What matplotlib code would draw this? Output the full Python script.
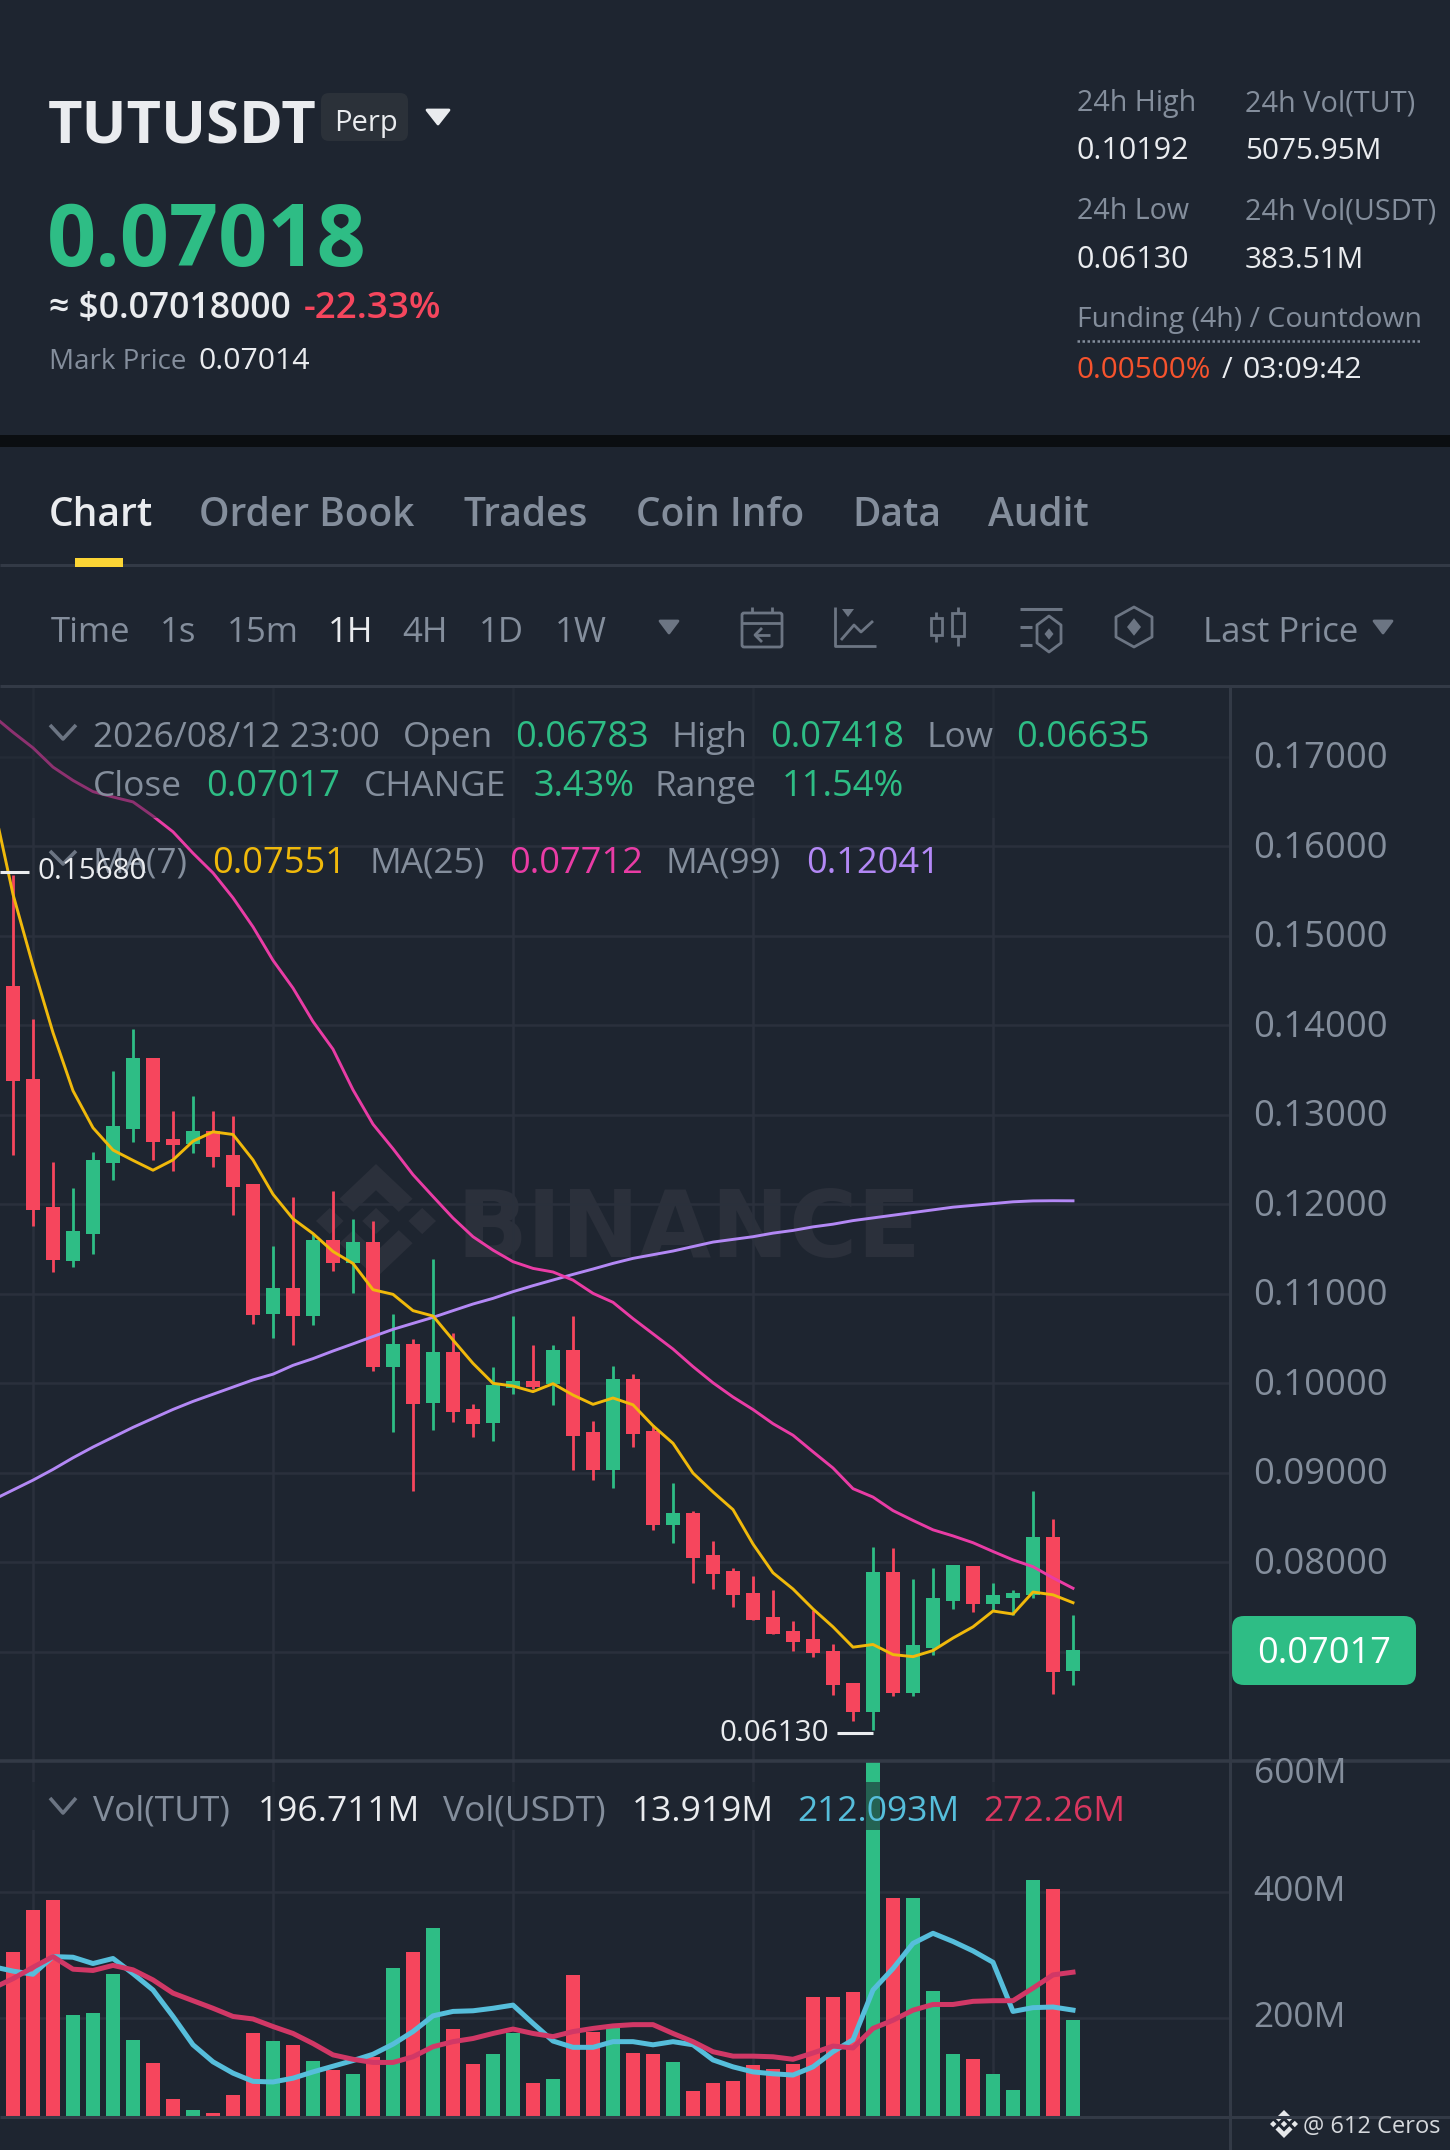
import numpy as np
import matplotlib
matplotlib.use('Agg')
import matplotlib.pyplot as plt
from matplotlib.patches import FancyBboxPatch, Polygon, Rectangle
from matplotlib.transforms import ScaledTranslation

# ---------- data ----------
opens = [.14718,.14443,.13406,.11974,.11371,.11670,.12463,.12847,.13635,.12727,.12673,.12822,.12558,.12224,.10772,
         .11066,.10752,.11605,.11341,.11580,.10188,.10437,.09778,.10355,.09715,.09559,.09953,.10024,.09994,.10378,
         .09454,.09030,.10046,.09473,.08418,.08553,.08081,.07904,.07662,.07394,.07232,.07145,.07016,.06657,.06333,
         .07892,.06540,.07050,.07568,.07964,.07538,.07598,.07639,.08285,.06783]
closes = [.14418,.13381,.11944,.11376,.11700,.12493,.12877,.13635,.12697,.12662,.12822,.12528,.12194,.10767,.11066,
          .10757,.11605,.11341,.11585,.10188,.10437,.09775,.10352,.09685,.09551,.09983,.10024,.09957,.10374,.09417,
          .09030,.10046,.09439,.08419,.08553,.08051,.07874,.07636,.07360,.07201,.07114,.06986,.06627,.06333,.07892,
          .06544,.07080,.07598,.07968,.07538,.07632,.07662,.08285,.06771,.07017]
highs = [.15000,.15680,.14069,.12478,.12184,.12588,.13486,.13959,.13635,.13047,.13211,.13047,.12987,.12224,.11535,
         .12089,.11675,.12149,.11840,.11815,.10776,.10497,.11391,.10560,.09771,.10180,.10754,.10426,.10426,.10754,
         .09577,.10192,.10102,.09536,.08886,.08572,.08236,.07934,.07847,.07689,.07345,.07470,.07092,.06657,.08168,
         .08164,.07813,.07934,.07976,.07964,.07768,.07689,.08795,.08482,.07418]
lows = [.14000,.12548,.11755,.11241,.11306,.11450,.12273,.12702,.12493,.12373,.12573,.12423,.11884,.10662,.10513,
        .10428,.10657,.11261,.11011,.10143,.09462,.08803,.09480,.09566,.09398,.09361,.09886,.09935,.09756,.09033,
        .08925,.08836,.09294,.08359,.08214,.07775,.07708,.07504,.07360,.07201,.07016,.06948,.06522,.06234,.06130,
        .06503,.06503,.06967,.07477,.07451,.07458,.07413,.07602,.06533,.06635]
ma7 = [.16498,.15466,.14668,.13920,.13271,.12857,.12608,.12493,.12383,.12498,.12707,.12812,.12782,.12498,.12114,
       .11840,.11675,.11475,.11341,.11048,.10996,.10814,.10754,.10486,.10225,.10002,.09972,.09909,.09998,.09871,
       .09767,.09838,.09762,.09528,.09332,.08999,.08788,.08591,.08206,.07885,.07704,.07481,.07281,.07054,.07084,
       .06971,.06948,.07016,.07156,.07281,.07458,.07424,.07670,.07639,.07551]
ma25 = [.17461,.17276,.17102,.16887,.16738,.16613,.16553,.16498,.16339,.16164,.15925,.15705,.15426,.15102,.14728,
        .14418,.14044,.13735,.13281,.12897,.12623,.12333,.12089,.11849,.11640,.11490,.11361,.11286,.11246,.11155,
        .11007,.10907,.10725,.10555,.10385,.10189,.10008,.09849,.09709,.09551,.09422,.09237,.09056,.08825,.08731,
        .08580,.08470,.08365,.08297,.08221,.08123,.08029,.07953,.07828,.07712]
ma99 = [.08700,.08810,.08920,.09040,.09170,.09290,.09400,.09510,.09610,.09710,.09800,.09880,.09960,.10040,.10104,
        .10203,.10278,.10363,.10443,.10525,.10605,.10672,.10739,.10814,.10888,.10951,.11026,.11093,.11156,.11219,
        .11279,.11342,.11398,.11439,.11480,.11530,.11580,.11610,.11640,.11680,.11710,.11750,.11780,.11820,.11850,
        .11880,.11910,.11940,.11970,.11990,.12010,.12030,.12040,.12042,.12041]
volume = [323,304,371,387,205,208,269,165,128,71,53,48,77,176,163,156,131,117,111,138,279,304,342,182,127,143,175,96,103,268,
          178,185,144,142,130,84,97,99,125,118,127,233,233,241,650,390,390,243,143,135,110,86,419,404,196.711]
vol_ma_a = [281,274,269,297,296,286,294,270,244,202,157,130,112,99,98,104,114,123,132,142,158,178,203,210,211,215,220,191,163,153,
            153,162,162,157,162,157,133,122,114,111,109,122,146,165,244,278,318,334,321,306,288,210,216,217,212.093]
vol_ma_b = [247,262,280,297,277,275,283,276,260,239,227,215,202,198,186,175,159,141,134,129,129,138,154,162,167,175,182,175,170,178,
            183,187,189,189,175,162,146,139,139,138,134,144,155,152,183,196,212,221,221,226,227,227,247,268,272.26]
price_ticks = [.07,.08,.09,.10,.11,.12,.13,.14,.15,.16,.17]
vol_ticks = [200,400]
time_grid = [2,14,26,38,50]

# ---------- style ----------
BG = '#1e2530'; GRID = '#2a303c'; DIV = '#333a46'
GREEN = '#2ebd85'; RED = '#f6465d'; GRAY = '#848e9c'; WHITE = '#eaecef'
YEL = '#f0b90b'; MAG = '#e93ca5'; PUR = '#b388f5'; VBLUE = '#56bedb'; VPINK = '#d13866'
plt.rcParams['font.family'] = ['Open Sans', 'DejaVu Sans']

W, H = 1450, 2150
fig = plt.figure(figsize=(W/100, H/100), dpi=100, facecolor=BG)

def axpx(x0, y0, x1, y1, z):
    a = fig.add_axes([x0/W, 1-y1/H, (x1-x0)/W, (y1-y0)/H], zorder=z)
    a.patch.set_alpha(0)
    for s in a.spines.values():
        s.set_visible(False)
    return a

# under layer: watermark
un = axpx(0, 0, W, H, 0); un.set_xlim(0, W); un.set_ylim(H, 0); un.axis('off')

def logo(ax, cx, cy, rx, ry, color, **kw):
    shapes = [[(0,-.23),(.23,0),(0,.23),(-.23,0)],
              [(-1,0),(-.77,-.23),(-.54,0),(-.77,.23)],
              [(1,0),(.77,-.23),(.54,0),(.77,.23)],
              [(0,-1),(.61,-.39),(.38,-.16),(0,-.54),(-.38,-.16),(-.61,-.39)],
              [(0,1),(.61,.39),(.38,.16),(0,.54),(-.38,.16),(-.61,.39)]]
    for s in shapes:
        ax.add_patch(Polygon([(cx+a*rx, cy+b*ry) for a, b in s], closed=True, fc=color, ec='none', **kw))

logo(un, 376, 1221, 60, 57, '#2b303b')
un.text(457, 1257, 'BINANCE', fontsize=67, fontweight='bold', color='#2b303b', va='baseline', family='DejaVu Sans')

# main price panel
x = np.arange(55)
XLIM = (0.35, 61.9)
ax = axpx(0, 686, 1231, 1762, 1)
ax.set_xlim(*XLIM); ax.set_ylim(0.05771, 0.17793)
ax.set_xticks(time_grid); ax.set_xticklabels([])
ax.set_yticks(price_ticks); ax.set_yticklabels(['%.5f' % v for v in price_ticks])
ax.yaxis.tick_right()
ax.tick_params(axis='y', length=0, pad=16, labelsize=26.2, labelcolor=GRAY)
ax.tick_params(axis='x', length=0)
ax.grid(True, color=GRID, lw=1.8); ax.set_axisbelow(True)

o, c, h, l = map(np.array, (opens, closes, highs, lows))
cols = [GREEN if b >= a else RED for a, b in zip(o, c)]
ax.vlines(x, l, h, colors=cols, lw=2.0, zorder=3)
ax.bar(x, np.abs(c-o), bottom=np.minimum(o, c), width=0.7, color=cols, lw=0, zorder=3)
ax.plot(x, ma99, color=PUR, lw=2.1, zorder=4, solid_joinstyle='round')
ax.plot(x, ma25, color=MAG, lw=2.1, zorder=4, solid_joinstyle='round')
ax.plot(x, ma7, color=YEL, lw=2.1, zorder=5, solid_joinstyle='round')

# volume panel
VMIN, VMAX = 42.4, 605.9
vx = axpx(0, 1762, 1231, 2117, 1)
vx.set_xlim(*XLIM); vx.set_ylim(VMIN, VMAX)
vx.set_xticks(time_grid); vx.set_xticklabels([])
vx.set_yticks(vol_ticks); vx.set_yticklabels(['%dM' % v for v in vol_ticks])
vx.yaxis.tick_right()
vx.tick_params(axis='y', length=0, pad=16, labelsize=25.5, labelcolor=GRAY)
vx.tick_params(axis='x', length=0)
vx.grid(True, color=GRID, lw=1.8); vx.set_axisbelow(True)
v = np.array(volume)
vx.bar(x, v-VMIN, bottom=VMIN, width=0.7, color=cols, lw=0, zorder=3)
vx.plot(x, vol_ma_a, color=VBLUE, lw=3.6, zorder=4, solid_joinstyle='round')
vx.plot(x, vol_ma_b, color=VPINK, lw=3.6, zorder=5, solid_joinstyle='round')

# nudge axis labels up to sit where the reference draws them
for a, pts in ((ax, 1.5), (vx, 2.5)):
    shift = ScaledTranslation(0, pts/72, fig.dpi_scale_trans)
    for lab in a.get_yticklabels():
        lab.set_transform(lab.get_transform() + shift)

# overlay: UI and text
ov = axpx(0, 0, W, H, 5); ov.set_xlim(0, W); ov.set_ylim(H, 0); ov.axis('off')

def T(xp, yp, s, size=25, color=GRAY, weight='normal', ha='left', **kw):
    return ov.text(xp, yp, s, fontsize=size, color=color, fontweight=weight, ha=ha, va='baseline', **kw)

def line(xs, ys, color=DIV, lw=2.2, **kw):
    ov.plot(xs, ys, color=color, lw=lw, solid_capstyle=kw.pop('cap', 'butt'), **kw)

def tri(cx, y0, y1, hw, color):
    ov.add_patch(Polygon([(cx-hw, y0), (cx+hw, y0), (cx, y1)], closed=True, fc=color, ec=color, lw=2, joinstyle='round'))

def chevron(x0, x1, y0, y1):
    line([x0, (x0+x1)/2, x1], [y0, y1, y0], color='#6c7583', lw=2.6)

# legend back-drops
ov.add_patch(Rectangle((0, 688), 1229, 130, fc=BG, ec='none', alpha=0.45))
ov.add_patch(Rectangle((0, 1782), 1229, 48, fc=BG, ec='none', alpha=0.6))

# band and dividers
ov.add_patch(Rectangle((0, 435), W, 12, fc='#0b0e11', ec='none'))
line([0, W], [565, 565]); line([0, W], [686, 686])
line([0, W], [1761, 1761], lw=2.6); line([0, W], [2117, 2117])
line([1230, 1230], [686, 2150], lw=2.2)
ov.add_patch(Rectangle((75, 558), 48, 9, fc='#fcd535', ec='none', zorder=4))

# header left
T(48, 144, 'TUTUSDT', 42.8, WHITE, 'bold')
ov.add_patch(FancyBboxPatch((321, 93), 87, 48, boxstyle='round,pad=0,rounding_size=8', fc='#2b3139', ec='none'))
T(334, 131, 'Perp', 21, WHITE)
tri(438, 110, 124, 11, WHITE)
T(47, 266, '0.07018', 62, GREEN, 'bold')
T(49, 318, '≈ $0.07018000', 25.6, WHITE, 'semibold')
T(304, 318, '-22.33%', 26.5, RED, 'semibold')
T(49, 369, 'Mark Price', 20, GRAY)
T(199, 369, '0.07014', 21.8, WHITE)

# header right
T(1077, 111, '24h High', 20.6); T(1245, 111, '24h Vol(TUT)', 20.8)
T(1077, 159, '0.10192', 22, WHITE); T(1245, 159, '5075.95M', 21.3, WHITE)
T(1077, 219, '24h Low', 20.6); T(1245, 219, '24h Vol(USDT)', 20.8)
T(1077, 268, '0.06130', 22, WHITE); T(1245, 268, '383.51M', 21.3, WHITE)
T(1077, 327, 'Funding (4h) / Countdown', 20.5)
line([1077, 1422], [341, 341], color='#848e9c', lw=1.8, ls=(0, (1, 1)))
T(1077, 378, '0.00500%', 21.4, '#f6532d'); T(1222, 378, '/', 21, WHITE); T(1243, 378, '03:09:42', 21.8, WHITE)

# tabs
for xp, s, col in [(49, 'Chart', WHITE), (199, 'Order Book', GRAY), (464, 'Trades', GRAY),
                   (636, 'Coin Info', GRAY), (852, 'Data', GRAY), (988, 'Audit', GRAY)]:
    T(xp, 526, s, 28, col, 'semibold')

# toolbar
for xp, s, col in [(51, 'Time', GRAY), (160, '1s', GRAY), (227, '15m', GRAY), (328, '1H', WHITE),
                   (402, '4H', GRAY), (479, '1D', GRAY), (555, '1W', GRAY), (1203, 'Last Price', GRAY)]:
    T(xp, 642, s, 25, col)
tri(669, 621, 633, 9, '#6c7583')
tri(1383, 621, 633, 9, '#6c7583')

IC = '#6c7583'
# calendar
ov.add_patch(FancyBboxPatch((742, 613), 40, 34, boxstyle='round,pad=0,rounding_size=2', fc='none', ec=IC, lw=2))
line([742, 782], [623, 623], IC, 2); line([752, 752], [607, 613], IC, 2); line([772, 772], [607, 613], IC, 2)
line([755, 770], [635, 635], IC, 2); line([762, 755, 762], [628, 635, 642], IC, 2)
# indicator
line([835, 835, 876], [607, 646, 646], IC, 2)
ov.add_patch(Polygon([(842, 609), (854, 609), (848, 617)], closed=True, fc=IC, ec='none'))
line([841, 854, 861, 873], [640, 625, 632, 621], IC, 2)
# candles icon
ov.add_patch(Rectangle((931, 618), 11, 17, fc='none', ec=IC, lw=2)); line([936.5, 936.5], [612, 618], IC, 2); line([936.5, 936.5], [635, 642], IC, 2)
ov.add_patch(Rectangle((952, 613), 12, 23, fc='none', ec=IC, lw=2)); line([958, 958], [607, 613], IC, 2); line([958, 958], [636, 646], IC, 2)
# list + hexagon
line([1020, 1062], [609, 609], IC, 2.2); line([1020, 1032], [627, 627], IC, 2.2); line([1020, 1032], [645, 645], IC, 2.2)
def hexa(cx, cy, rx, ry, inner):
    ov.add_patch(Polygon([(cx, cy-ry), (cx+rx, cy-ry*.5), (cx+rx, cy+ry*.5), (cx, cy+ry), (cx-rx, cy+ry*.5), (cx-rx, cy-ry*.5)],
                         closed=True, fc='none', ec=IC, lw=2, joinstyle='round'))
    ov.add_patch(Polygon([(cx, cy-inner*1.25), (cx+inner, cy), (cx, cy+inner*1.25), (cx-inner, cy)], closed=True, fc=IC, ec='none'))
hexa(1049, 634, 12, 18, 4.5)
hexa(1134, 627, 18, 20, 7)

# OHLC legend
chevron(50, 76, 725, 739)
for xp, yp, s, col, sz in [(93, 747, '2026/08/12 23:00', GRAY, 25.5), (403, 747, 'Open', GRAY, 25.4), (515, 747, '0.06783', GREEN, 26),
                       (672, 747, 'High', GRAY, 25.4), (770, 747, '0.07418', GREEN, 26), (927, 747, 'Low', GRAY, 25.4), (1016, 747, '0.06635', GREEN, 26),
                       (93, 796, 'Close', GRAY, 25.4), (206, 796, '0.07017', GREEN, 26), (364, 796, 'CHANGE', GRAY, 25.4), (533, 796, '3.43%', GREEN, 26),
                       (655, 796, 'Range', GRAY, 25.4), (782, 796, '11.54%', GREEN, 26),
                       (93, 873, 'MA(7)', GRAY, 25.4), (212, 873, '0.07551', YEL, 26), (370, 873, 'MA(25)', GRAY, 25.4), (509, 873, '0.07712', MAG, 26),
                       (666, 873, 'MA(99)', GRAY, 25.4), (806, 873, '0.12041', PUR, 26)]:
    T(xp, yp, s, sz, col)
chevron(50, 76, 851, 864)

# min / max annotations
line([0, 29], [872, 872], '#eaecef', 2.2)
T(38, 879, '0.15680', 21.3, WHITE)
line([837, 873], [1733, 1733], '#eaecef', 2.2)
T(720, 1741, '0.06130', 21.3, WHITE)

# last price badge
ov.add_patch(FancyBboxPatch((1232, 1616), 184, 69, boxstyle='round,pad=0,rounding_size=12', fc=GREEN, ec='none'))
T(1324, 1663, '0.07017', 26, 'white', ha='center')

# volume legend
chevron(50, 76, 1798, 1813)
for xp, s, col in [(93, 'Vol(TUT)', GRAY), (258, '196.711M', WHITE), (443, 'Vol(USDT)', GRAY), (632, '13.919M', WHITE),
                   (797, '212.093M', VBLUE), (983, '272.26M', '#d8365f')]:
    T(xp, 1821, s, 25.5, col)
t600 = T(1254, 1783, '600M', 25.5, GRAY)
t600.set_clip_path(Rectangle((1232, 1763), 218, 40, transform=ov.transData))

# credit
logo(ov, 1284, 2124, 14, 14, '#e6e8ea')
T(1303, 2133, '@ 612 Ceros', 17, '#d5d8dc')

fig.savefig('out.png', dpi=100, facecolor=BG)
